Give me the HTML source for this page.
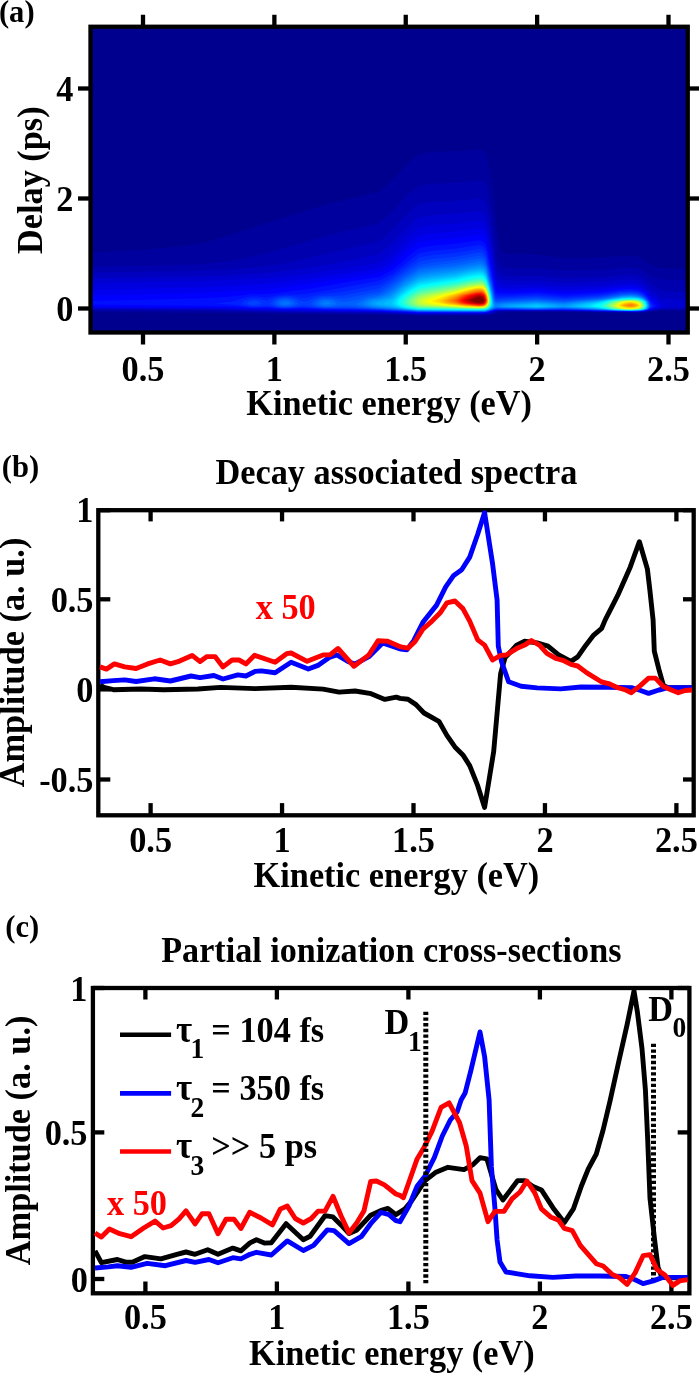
<!DOCTYPE html>
<html><head><meta charset="utf-8"><style>
html,body{margin:0;padding:0;background:#fff;overflow:hidden;width:700px;height:1373px;}
svg{display:block;will-change:transform}
text{font-family:'Liberation Serif',serif;font-weight:bold}
</style></head><body>
<svg width="700" height="1373" viewBox="0 0 700 1373">
<rect width="700" height="1373" fill="#fff"/>
<g clip-path="url(#ca)"><defs><clipPath id="ca"><rect x="90.5" y="26.75" width="597.25" height="305.75"/></clipPath></defs><rect x="90.5" y="26.75" width="597.25" height="305.75" fill="#00008f"/>
<path fill="#00009f" fill-rule="evenodd" d="M487.5 315.6 419.5 315.8 377.5 314.7 90.5 312.1 90.5 252.7 151.5 249.3 186.6 245.5 202.5 243.3 231.3 234.5 285.5 216.7 328.5 203.9 378.5 191.7 381.5 189.8 392.5 180.0 406.5 164.5 416.5 156.2 419.5 154.3 432.5 152.1 457.5 151.1 478.5 149.4 481.5 150.1 484.5 151.7 486.1 154.5 487.5 159.4 492.5 185.4 497.5 234.8 500.5 247.2 502.0 250.5 503.5 252.4 505.5 253.1 511.5 253.8 537.5 254.5 564.5 258.2 590.5 257.9 622.5 255.9 632.5 256.0 639.5 257.1 642.5 258.9 650.5 265.3 659.5 267.9 687.5 268.9 687.5 310.5 661.5 310.7 651.5 311.4 643.5 313.0 635.5 313.3 562.5 312.1 503.5 312.3 498.5 313.0 492.5 314.9 487.5 315.6Z"/>
<path fill="#0000af" fill-rule="evenodd" d="M488.5 314.6 479.5 315.1 419.5 314.9 378.5 313.6 284.5 312.7 200.5 311.1 90.5 310.4 90.5 266.6 151.5 265.7 200.5 264.2 227.1 261.5 248.7 257.5 272.5 251.5 329.5 235.1 378.5 223.3 381.5 221.3 392.5 211.5 406.5 196.1 416.5 187.7 419.5 185.8 432.5 183.7 457.5 182.5 478.5 180.6 481.5 181.3 484.5 182.9 486.5 186.9 492.3 215.5 496.5 255.5 497.4 260.5 499.5 264.9 502.5 267.2 511.5 268.5 537.5 268.2 564.5 270.5 601.5 269.8 622.5 268.0 631.5 267.8 639.5 269.0 642.7 270.5 650.5 276.6 660.5 279.4 687.5 280.5 687.5 309.8 661.5 310.0 651.5 310.7 644.5 312.3 631.5 312.7 563.5 311.3 501.5 311.4 497.5 311.9 492.5 313.9 488.5 314.6Z"/>
<path fill="#0000bf" fill-rule="evenodd" d="M490.5 313.6 481.5 314.4 419.5 314.3 379.5 313.0 284.5 311.9 203.5 310.1 90.5 309.5 90.5 272.6 172.5 271.3 227.5 269.4 264.5 266.5 289.9 262.5 378.5 241.6 381.5 239.7 392.5 229.9 406.5 214.5 416.5 206.1 419.5 204.2 432.5 202.0 457.5 200.7 478.5 198.5 481.5 199.2 484.5 200.9 486.5 204.9 491.8 230.5 496.4 267.5 498.5 271.9 502.1 274.5 511.5 276.3 537.5 275.9 564.5 278.0 601.5 277.2 623.5 274.8 632.5 274.6 637.5 275.3 641.5 276.9 646.8 280.5 650.5 284.0 656.5 287.2 661.5 290.7 687.5 292.5 687.5 308.6 662.5 309.1 650.5 310.4 644.5 312.0 638.5 312.3 563.5 310.9 502.5 310.9 496.5 311.3 490.5 313.6Z"/>
<path fill="#0000cf" fill-rule="evenodd" d="M487.5 313.7 478.5 314.0 419.5 313.9 379.5 312.4 283.5 311.2 220.1 309.5 90.5 308.8 90.5 278.0 199.5 276.5 239.5 274.8 273.5 272.2 303.3 268.5 322.5 265.5 349.5 260.5 379.5 253.8 392.5 242.8 406.5 227.4 416.5 219.1 419.5 217.2 432.5 215.0 456.5 213.6 478.5 211.1 481.5 211.8 484.5 213.5 486.5 217.5 491.5 241.3 495.5 271.2 497.5 277.2 500.5 279.3 510.5 281.1 537.5 280.6 564.5 282.9 601.5 281.7 626.5 279.2 635.5 279.5 639.5 280.3 642.5 282.0 646.5 285.4 650.5 289.8 656.5 293.5 661.5 298.1 687.5 300.0 687.5 307.3 662.5 307.9 657.5 309.5 651.5 310.0 641.5 312.0 621.5 312.1 563.5 310.5 499.7 310.5 496.5 310.8 492.5 312.6 487.5 313.7Z"/>
<path fill="#0000df" fill-rule="evenodd" d="M484.5 313.6 418.5 313.4 378.5 311.8 284.5 310.6 217.5 308.8 90.5 308.1 90.5 283.3 200.5 281.0 266.5 278.3 303.3 274.5 365.0 265.5 377.5 263.3 381.5 261.5 392.5 252.6 406.5 237.4 416.5 229.1 419.5 227.2 431.5 225.1 456.5 223.4 478.5 220.7 481.5 221.3 484.5 223.1 486.5 227.2 491.4 250.5 495.5 277.5 497.5 282.0 499.5 283.6 502.5 284.6 509.5 285.4 537.5 284.5 564.5 287.0 601.5 285.5 625.5 282.7 635.5 282.9 639.5 283.9 643.5 286.2 650.5 293.7 656.5 297.8 661.5 303.0 668.8 304.5 664.2 305.5 662.9 306.5 654.5 309.4 645.5 311.3 638.5 311.9 622.5 312.0 564.5 310.3 498.5 310.3 495.9 310.5 489.5 312.9 484.5 313.6Z"/>
<path fill="#0000ef" fill-rule="evenodd" d="M488.5 312.7 479.5 313.3 419.5 313.2 379.5 311.4 303.5 309.9 283.5 310.1 267.5 309.2 251.5 309.2 228.5 308.2 90.5 307.3 90.5 289.9 199.5 287.5 255.5 284.4 273.5 282.9 319.7 277.5 377.5 269.0 381.7 267.5 391.5 261.1 406.5 245.6 416.5 237.3 419.5 235.4 431.5 233.2 456.5 231.4 478.5 228.4 483.5 230.0 485.5 232.4 486.5 235.0 490.9 255.5 495.5 282.3 496.5 285.4 498.5 287.4 502.5 288.4 510.5 288.8 537.5 287.7 564.5 290.1 601.5 288.4 624.5 285.4 634.5 285.4 639.5 286.5 643.5 288.9 647.5 292.6 651.5 297.5 657.5 301.8 659.3 304.5 659.4 306.5 656.5 308.1 645.5 311.1 638.5 311.7 623.5 311.8 564.5 310.2 498.5 310.1 494.8 310.5 488.5 312.7Z"/>
<path fill="#0000ff" fill-rule="evenodd" d="M487.5 312.6 478.5 313.1 419.5 312.9 379.5 311.0 324.5 310.1 303.5 309.2 283.5 309.6 268.5 308.6 251.5 308.6 229.5 307.3 90.5 306.4 90.5 295.6 200.5 293.1 266.0 289.5 276.1 288.5 375.5 273.9 380.5 272.6 392.5 265.9 406.5 252.2 419.5 242.2 431.5 240.0 455.5 238.2 478.5 234.8 483.5 236.4 485.5 238.9 486.5 241.5 490.1 257.5 495.5 287.0 496.5 289.4 498.5 290.8 510.5 291.5 537.5 290.2 564.5 292.6 601.5 290.7 622.5 287.7 633.5 287.4 639.5 288.6 644.5 291.7 647.5 294.6 651.5 299.8 656.7 303.5 657.7 306.5 646.5 310.6 636.5 311.6 564.5 310.0 497.5 310.0 494.5 310.3 487.5 312.6Z"/>
<path fill="#0010ff" fill-rule="evenodd" d="M485.5 312.6 419.5 312.6 356.5 309.9 324.5 309.6 303.5 308.6 283.5 309.1 267.5 307.7 252.5 308.0 235.5 306.6 202.5 305.7 90.5 304.6 90.5 301.0 197.5 298.5 230.5 296.8 250.5 294.2 268.5 293.9 312.0 288.5 349.6 281.5 379.5 277.1 393.5 269.4 408.5 256.3 417.5 249.2 420.5 247.8 432.5 245.7 456.5 243.8 478.5 240.3 480.5 240.6 483.5 241.9 485.5 244.4 486.5 246.9 491.7 270.5 494.5 286.7 495.5 290.7 497.5 293.2 510.5 293.6 537.5 292.3 564.5 294.6 601.5 292.4 623.5 289.3 632.5 289.1 638.5 289.9 643.5 292.4 647.5 296.2 651.5 301.7 655.2 304.5 655.8 306.5 647.5 310.2 638.5 311.4 622.5 311.4 601.5 310.5 564.5 309.8 497.5 309.8 494.5 310.1 485.5 312.6Z"/>
<path fill="#0020ff" fill-rule="evenodd" d="M481.5 312.5 418.5 312.3 379.5 310.1 345.5 309.1 324.5 309.2 304.5 307.8 283.5 308.7 267.5 306.9 250.5 307.3 235.5 304.9 214.7 303.5 231.5 301.7 245.5 297.6 250.5 296.7 256.5 296.6 266.5 297.5 283.5 294.2 299.5 294.5 305.5 294.0 332.9 289.5 377.5 281.0 381.7 279.5 392.5 273.9 416.5 254.9 419.5 253.1 431.5 250.9 455.5 248.7 478.5 245.0 480.5 245.3 483.5 246.6 485.5 249.0 486.5 251.6 491.2 272.5 494.5 290.2 495.5 293.6 497.5 295.6 510.5 295.4 536.5 294.0 564.5 296.4 601.5 293.9 620.5 291.0 631.5 290.4 638.5 291.2 643.5 293.7 647.6 297.5 653.7 306.5 647.5 310.0 637.5 311.3 564.5 309.7 497.5 309.6 494.5 309.8 486.5 312.3 481.5 312.5Z"/>
<path fill="#0030ff" fill-rule="evenodd" d="M488.5 311.5 479.5 312.3 419.5 312.1 356.5 308.8 322.5 308.6 304.5 306.9 283.5 308.1 277.0 307.5 266.5 305.4 257.6 306.5 250.6 306.5 242.6 304.5 241.5 303.5 244.7 300.5 250.5 298.7 256.5 298.6 266.5 300.4 277.5 296.8 285.5 295.7 291.5 296.0 301.5 297.8 305.5 297.8 320.5 294.3 340.5 292.2 376.5 285.3 379.5 284.4 392.5 277.2 405.5 267.3 419.5 257.6 431.5 255.3 455.5 253.0 478.5 249.0 480.5 249.3 483.5 250.6 486.1 254.5 490.0 270.5 494.5 293.1 495.5 296.0 497.5 297.6 536.5 295.6 564.5 297.9 601.5 295.2 620.5 292.1 631.5 291.5 638.5 292.3 643.5 294.8 649.1 300.5 651.6 306.5 647.5 309.8 642.5 310.8 636.5 311.2 564.5 309.5 533.5 309.8 497.5 309.2 494.5 309.6 488.5 311.5Z"/>
<path fill="#0040ff" fill-rule="evenodd" d="M487.5 311.6 478.5 312.1 418.5 311.8 350.5 308.0 323.5 308.1 316.8 307.5 304.5 305.2 291.5 307.3 283.5 307.6 275.7 306.5 271.2 304.5 270.4 303.5 271.9 301.5 274.8 299.5 278.5 298.0 282.5 297.2 286.5 297.0 291.5 297.6 301.5 301.0 304.5 301.5 307.5 300.9 316.5 297.3 321.5 296.1 343.5 295.4 377.5 288.9 380.5 287.6 393.5 279.4 405.5 270.4 419.5 261.5 431.5 259.3 455.5 256.8 478.5 252.6 480.5 252.8 483.5 254.1 485.4 256.5 486.2 258.5 491.8 281.5 494.5 295.6 495.5 298.1 496.5 299.0 536.5 297.0 564.5 299.2 601.5 296.3 620.5 293.1 631.5 292.4 638.5 293.2 643.5 295.7 647.5 299.2 649.3 301.5 650.6 306.5 649.1 308.5 647.5 309.6 642.5 310.7 636.5 311.1 622.5 311.1 563.5 309.1 531.5 309.6 497.5 308.7 495.5 308.9 487.5 311.6ZM259.5 304.6 252.5 305.3 248.2 304.5 247.0 303.5 249.5 301.2 255.0 300.5 258.5 301.4 260.3 302.5 261.1 303.5 259.5 304.6Z"/>
<path fill="#0050ff" fill-rule="evenodd" d="M486.5 311.5 478.5 311.9 419.5 311.6 347.5 307.0 324.5 307.6 315.8 306.5 311.3 304.5 310.8 303.5 314.5 300.2 321.5 297.6 329.5 297.1 340.5 298.5 345.8 298.5 379.4 291.5 391.5 283.7 407.5 272.0 419.5 264.9 431.5 262.7 455.5 260.1 478.5 255.8 482.5 256.7 484.5 258.2 485.5 259.9 488.7 270.5 494.5 297.8 495.5 299.8 496.5 300.5 536.5 298.2 563.5 300.4 601.5 297.3 620.5 294.0 631.5 293.2 638.5 294.1 644.5 297.2 648.8 301.5 650.0 306.5 648.7 308.5 647.3 309.5 642.5 310.5 636.5 311.0 621.5 311.0 563.5 308.7 536.4 309.5 497.5 308.3 495.5 308.4 486.5 311.5ZM291.5 306.6 285.5 307.0 279.3 306.5 274.7 304.5 274.1 303.5 275.2 301.5 276.4 300.5 279.5 299.1 284.5 298.3 289.5 298.6 295.1 300.5 298.1 303.5 297.5 304.5 291.5 306.6Z"/>
<path fill="#0060ff" fill-rule="evenodd" d="M484.5 311.6 417.5 311.3 371.5 308.2 344.5 305.2 332.5 306.7 324.5 307.0 318.5 306.0 315.4 304.5 314.9 303.5 317.8 300.5 323.5 298.7 330.5 298.7 341.5 301.7 345.5 302.1 355.5 299.9 368.5 296.0 378.5 294.1 382.3 292.5 390.5 287.3 405.5 276.0 419.5 267.7 431.5 265.7 455.5 263.1 478.5 258.7 482.5 259.5 484.5 261.1 485.5 262.7 488.1 270.5 494.5 299.5 495.5 301.3 496.5 301.8 536.5 299.3 563.5 301.4 601.5 298.0 620.5 294.7 630.5 293.9 638.5 294.9 643.5 297.1 648.4 301.5 649.5 305.5 649.5 306.5 648.3 308.5 646.8 309.5 636.5 310.9 621.5 310.8 563.5 308.3 536.5 309.1 496.5 307.9 487.5 311.1 484.5 311.6ZM290.5 305.7 286.5 306.3 282.5 306.1 278.5 304.9 277.1 303.5 278.2 301.5 279.8 300.5 283.5 299.6 287.5 299.6 291.1 300.5 293.7 302.5 294.2 303.5 293.5 304.5 290.5 305.7Z"/>
<path fill="#0070ff" fill-rule="evenodd" d="M640.5 310.5 622.5 310.8 563.5 308.0 536.5 308.8 496.5 307.5 487.5 310.9 484.5 311.4 419.5 311.2 370.2 307.5 363.2 306.5 356.7 304.5 356.4 303.5 367.5 298.2 379.5 295.7 384.6 293.5 391.5 289.3 404.5 279.0 419.5 270.1 431.5 268.2 455.5 265.7 479.5 261.3 483.5 262.7 485.5 265.2 486.5 267.5 491.8 288.5 494.0 299.5 494.6 301.5 496.5 303.0 504.5 302.0 536.5 300.2 563.5 302.4 601.5 298.7 622.5 295.2 631.5 294.7 636.5 295.1 640.5 296.2 643.5 297.7 648.0 301.5 649.1 306.5 648.0 308.5 645.5 309.7 640.5 310.5ZM332.5 305.5 327.5 306.2 323.5 305.9 319.0 304.5 318.4 303.5 320.1 301.5 322.3 300.5 325.5 300.0 329.5 300.2 333.8 301.5 336.3 303.5 335.6 304.5 332.5 305.5ZM288.5 304.8 283.5 305.0 281.3 304.5 280.2 303.5 280.7 302.5 282.1 301.5 286.5 301.0 288.6 301.5 290.1 302.5 290.6 303.5 288.5 304.8Z"/>
<path fill="#0080ff" fill-rule="evenodd" d="M639.5 310.5 622.5 310.7 563.5 307.6 535.5 308.4 504.5 307.7 496.5 306.9 494.5 307.4 490.7 309.5 484.5 311.2 419.5 311.0 371.5 307.0 365.5 305.5 363.3 304.5 363.0 303.5 365.3 301.5 369.0 299.5 380.5 296.9 388.7 293.5 392.5 291.1 404.5 281.1 419.5 272.5 431.5 270.4 455.5 267.8 479.5 263.6 483.5 264.9 485.5 267.3 486.5 269.5 491.4 288.5 494.1 301.5 495.5 303.9 496.5 304.3 504.5 302.9 536.5 301.1 563.5 303.2 576.4 301.5 601.5 299.3 622.5 295.8 631.5 295.3 636.5 295.7 640.5 296.8 644.5 298.9 647.6 301.5 648.8 305.5 648.7 306.5 647.6 308.5 644.5 309.8 639.5 310.5ZM328.5 304.6 324.1 304.5 322.7 303.5 323.7 302.5 326.5 302.0 329.4 302.5 330.6 303.5 328.5 304.6Z"/>
<path fill="#008fff" fill-rule="evenodd" d="M486.5 310.7 478.5 311.1 416.5 310.6 373.0 306.5 367.6 304.5 367.2 303.5 369.1 301.5 371.5 300.3 383.4 297.5 390.5 294.6 406.5 281.9 419.5 274.7 431.5 272.6 455.5 269.8 479.5 265.6 483.5 266.8 485.5 269.1 486.5 271.3 491.0 288.5 493.5 301.4 495.3 306.5 490.0 309.5 486.5 310.7ZM637.5 310.5 617.5 310.3 563.5 307.2 535.5 308.1 509.8 307.5 498.2 306.5 501.2 304.5 503.5 304.0 535.5 302.0 563.5 304.3 580.5 301.8 602.5 299.7 622.5 296.3 630.5 295.8 636.5 296.3 640.5 297.3 643.5 298.7 647.2 301.5 648.4 305.5 647.2 308.5 643.5 309.9 637.5 310.5Z"/>
<path fill="#009fff" fill-rule="evenodd" d="M485.5 310.7 417.5 310.5 405.2 309.5 376.5 305.9 371.5 304.5 370.9 303.5 372.5 301.9 374.5 301.0 385.5 298.4 390.6 296.5 400.1 288.5 406.5 283.9 419.5 276.7 431.5 274.6 455.5 271.6 479.5 267.3 483.5 268.5 485.3 270.5 486.5 273.1 490.9 289.5 493.9 304.5 494.1 306.5 492.9 307.5 489.3 309.5 485.5 310.7ZM635.5 310.5 616.5 310.2 563.5 306.7 536.5 307.9 501.7 306.5 504.5 305.4 509.8 304.5 536.5 302.7 553.5 304.1 563.5 306.0 574.0 303.5 602.5 300.2 620.5 297.0 629.5 296.3 639.5 297.4 643.5 299.1 646.8 301.5 648.1 305.5 646.8 308.5 643.5 309.8 635.5 310.5Z"/>
<path fill="#00afff" fill-rule="evenodd" d="M484.5 310.6 417.5 310.2 400.3 308.5 376.7 304.5 375.5 303.5 377.1 302.5 391.5 298.0 404.5 287.1 413.4 281.5 419.5 278.5 431.5 276.4 454.5 273.5 468.5 270.5 479.5 268.9 483.5 270.0 485.5 272.4 486.5 274.7 491.0 291.5 493.3 304.5 493.3 306.5 492.2 307.5 488.7 309.5 484.5 310.6ZM631.5 310.5 608.5 309.6 568.3 306.5 574.5 304.4 625.5 296.9 631.5 296.8 637.5 297.3 642.5 298.9 646.4 301.5 647.7 305.5 646.4 308.5 641.5 310.0 631.5 310.5ZM539.5 307.5 508.8 306.5 520.2 304.5 536.5 303.4 548.4 304.5 557.5 306.5 539.5 307.5Z"/>
<path fill="#00bfff" fill-rule="evenodd" d="M481.5 310.5 417.5 310.0 401.5 308.3 385.6 304.5 383.7 303.5 392.5 299.3 397.5 294.4 404.5 288.8 418.5 280.5 430.5 278.2 455.5 274.9 469.5 271.8 479.5 270.3 483.5 271.4 485.5 273.9 486.5 276.2 491.1 293.5 492.8 304.5 492.6 306.5 488.5 309.3 485.5 310.3 481.5 310.5ZM643.5 309.6 635.5 310.3 619.5 310.2 574.3 306.5 580.0 304.5 597.6 301.5 620.5 297.8 631.5 297.1 639.5 298.1 643.5 299.8 646.0 301.5 647.2 304.5 647.3 306.5 646.0 308.5 643.5 309.6ZM549.5 306.5 536.5 307.2 518.2 306.5 536.5 304.3 550.2 306.5 549.5 306.5Z"/>
<path fill="#00cfff" fill-rule="evenodd" d="M487.5 309.5 484.5 310.2 478.5 310.4 418.5 309.9 406.5 308.7 399.8 307.5 396.0 306.5 392.4 304.5 391.6 303.5 393.5 300.5 400.5 293.5 407.5 288.3 418.5 282.1 430.5 279.8 454.8 276.5 470.5 273.0 479.5 271.7 483.5 272.8 485.5 275.3 488.4 283.5 491.3 295.5 492.3 303.5 492.0 306.5 487.5 309.5ZM642.5 309.6 632.5 310.3 618.5 310.0 580.7 306.5 586.3 304.5 608.5 300.1 622.5 297.9 631.5 297.5 638.5 298.2 642.5 299.6 645.6 301.5 646.9 304.5 646.9 306.5 645.6 308.5 642.5 309.6ZM541.5 306.6 528.8 306.5 536.5 305.7 542.5 306.5 541.5 306.6Z"/>
<path fill="#00dfff" fill-rule="evenodd" d="M486.5 309.6 478.5 310.2 418.5 309.6 401.9 307.5 396.4 305.5 394.4 303.5 395.4 300.5 399.9 295.5 409.5 288.5 418.5 283.6 429.5 281.4 455.5 277.8 468.5 274.8 479.5 273.0 483.5 274.1 485.5 276.6 488.3 284.5 491.0 295.5 491.8 300.5 491.8 305.5 490.4 307.5 486.5 309.6ZM642.5 309.5 631.5 310.3 617.5 309.9 587.5 306.5 591.1 304.5 606.5 300.8 623.5 298.2 632.5 297.9 639.5 298.8 645.2 301.5 646.5 304.5 646.6 306.5 645.3 308.5 642.5 309.5Z"/>
<path fill="#00efff" fill-rule="evenodd" d="M485.5 309.7 477.5 310.0 417.5 309.3 406.5 308.0 400.4 306.5 397.1 304.5 396.5 302.5 397.1 300.5 401.7 295.5 411.5 288.7 419.5 284.7 431.5 282.4 454.5 279.2 469.5 275.8 479.5 274.2 483.5 275.4 485.5 277.8 488.3 285.5 490.9 296.5 491.6 302.5 490.9 306.5 488.4 308.5 485.5 309.7ZM641.5 309.6 630.5 310.2 616.5 309.7 606.5 308.8 591.9 306.5 592.4 305.5 594.2 304.5 606.5 301.1 621.5 298.7 632.5 298.2 639.5 299.1 644.8 301.5 646.2 304.5 646.2 306.5 644.9 308.5 641.5 309.6Z"/>
<path fill="#00ffff" fill-rule="evenodd" d="M484.5 309.6 418.5 309.1 407.5 307.8 402.4 306.5 399.1 304.5 398.3 302.5 398.8 300.5 403.5 295.5 412.5 289.4 419.5 286.0 430.5 283.9 454.5 280.4 469.5 277.0 479.5 275.4 483.5 276.5 485.5 279.0 488.9 288.5 491.1 299.5 491.3 303.5 490.4 306.5 487.5 308.8 484.5 309.6ZM640.5 309.6 630.5 310.1 615.5 309.5 606.5 308.6 595.3 306.5 595.5 305.5 597.5 304.5 602.5 303.2 607.5 301.2 623.5 298.8 634.5 298.6 641.5 300.0 644.4 301.5 645.0 302.5 646.0 305.5 645.3 307.5 644.5 308.5 640.5 309.6Z"/>
<path fill="#10ffef" fill-rule="evenodd" d="M483.5 309.5 418.5 308.9 404.3 306.5 401.0 304.5 400.0 302.5 400.5 300.5 405.3 295.5 413.5 290.1 419.5 287.2 430.5 285.1 455.5 281.3 470.5 277.9 479.5 276.5 483.5 277.6 486.2 281.5 488.7 288.5 490.9 299.5 491.0 303.5 490.0 306.5 486.5 309.0 483.5 309.5ZM640.5 309.5 630.5 310.0 615.5 309.4 607.0 308.5 598.9 306.5 598.8 305.5 608.5 301.2 623.5 299.0 635.5 298.9 641.5 300.3 644.0 301.5 644.7 302.5 645.5 304.5 645.5 306.5 644.2 308.5 640.5 309.5Z"/>
<path fill="#20ffdf" fill-rule="evenodd" d="M486.5 308.8 478.5 309.5 418.5 308.6 406.3 306.5 402.8 304.5 401.7 302.5 402.1 300.5 407.0 295.5 414.5 290.8 419.5 288.4 454.5 282.5 479.5 277.5 483.5 278.6 485.5 281.0 488.1 287.5 490.1 295.5 490.8 300.5 490.2 305.5 488.7 307.5 486.5 308.8ZM639.5 309.6 624.5 309.8 610.5 308.8 602.0 306.5 601.8 305.5 606.3 302.5 609.5 301.3 624.5 299.2 636.5 299.3 643.5 301.4 645.2 304.5 645.2 306.5 643.8 308.5 639.5 309.6Z"/>
<path fill="#30ffcf" fill-rule="evenodd" d="M486.5 308.5 478.5 309.3 419.5 308.4 408.3 306.5 404.6 304.5 403.4 302.5 403.8 300.5 408.7 295.5 419.5 289.5 430.5 287.2 454.5 283.4 479.5 278.5 482.5 279.0 485.2 281.5 487.5 286.4 489.0 291.5 490.4 299.5 490.4 303.5 489.3 306.5 486.5 308.5ZM638.5 309.6 623.5 309.7 609.6 308.5 603.7 306.5 603.4 305.5 605.7 303.5 610.0 301.5 625.5 299.4 636.5 299.5 643.2 301.5 644.9 304.5 644.8 306.5 643.4 308.5 638.5 309.6Z"/>
<path fill="#40ffbf" fill-rule="evenodd" d="M485.5 308.7 477.5 309.1 419.5 308.1 409.5 306.2 406.3 304.5 405.1 302.5 405.4 300.5 409.5 296.2 419.5 290.6 428.8 288.5 454.5 284.3 466.5 281.5 479.5 279.4 483.5 280.5 485.5 282.7 488.0 288.5 489.7 295.5 490.3 300.5 489.9 304.5 488.5 307.0 485.5 308.7ZM637.5 309.6 623.5 309.6 610.9 308.5 604.9 306.5 604.6 305.5 606.9 303.5 611.4 301.5 622.5 299.8 635.5 299.7 642.8 301.5 644.5 304.5 644.5 306.5 643.0 308.5 637.5 309.6Z"/>
<path fill="#50ffaf" fill-rule="evenodd" d="M484.5 308.7 477.5 309.0 419.5 307.8 412.4 306.5 409.7 305.5 407.0 303.5 406.7 302.5 406.9 300.5 410.8 296.5 419.5 291.7 430.5 289.2 454.5 285.2 468.5 281.9 479.5 280.3 483.5 281.2 485.5 283.4 487.7 288.5 489.5 295.5 490.1 300.5 489.3 305.5 487.5 307.6 484.5 308.7ZM636.5 309.6 623.5 309.5 612.3 308.5 606.1 306.5 605.6 305.5 607.5 303.8 612.8 301.5 622.5 300.0 635.5 299.8 642.4 301.5 644.4 305.5 643.5 307.5 642.5 308.5 636.5 309.6Z"/>
<path fill="#60ff9f" fill-rule="evenodd" d="M483.5 308.6 419.5 307.5 414.3 306.5 409.8 304.5 408.2 302.5 408.4 300.5 413.8 295.5 420.5 292.4 431.5 290.0 455.5 285.8 470.5 282.3 480.5 281.1 483.5 282.0 486.5 286.0 488.6 292.5 489.9 299.5 489.7 303.5 488.5 306.3 486.5 307.9 483.5 308.6ZM635.5 309.5 624.5 309.5 613.5 308.5 607.3 306.5 606.7 305.5 608.5 303.9 614.0 301.5 622.5 300.2 634.5 300.0 641.9 301.5 644.1 305.5 643.1 307.5 641.5 308.7 635.5 309.5Z"/>
<path fill="#70ff8f" fill-rule="evenodd" d="M481.5 308.5 419.5 307.1 416.2 306.5 411.6 304.5 409.8 302.5 409.9 300.5 415.6 295.5 421.5 293.1 455.5 286.5 469.5 283.2 480.5 281.8 483.5 282.7 486.5 286.7 488.9 294.5 489.8 300.5 489.5 303.5 488.1 306.5 485.5 308.1 481.5 308.5ZM632.5 309.5 614.5 308.5 608.5 306.5 607.9 305.5 608.7 304.5 615.0 301.5 629.5 300.0 636.5 300.3 640.5 301.2 642.4 302.5 643.5 304.5 643.5 306.5 641.7 308.5 632.5 309.5Z"/>
<path fill="#80ff80" fill-rule="evenodd" d="M486.5 307.5 483.5 308.3 477.5 308.4 420.5 306.8 417.5 306.3 413.4 304.5 411.4 302.5 411.5 300.5 416.5 296.1 421.5 294.0 455.5 287.3 468.5 284.1 480.5 282.4 483.5 283.3 485.5 285.5 487.3 289.5 489.0 295.5 489.6 300.5 489.3 303.5 488.5 305.6 486.5 307.5ZM640.5 308.7 630.5 309.5 618.5 308.8 615.5 308.5 609.8 306.5 609.0 305.5 609.9 304.5 616.5 301.4 628.5 300.2 636.5 300.5 640.9 301.5 643.2 304.5 643.1 306.5 640.5 308.7Z"/>
<path fill="#8fff70" fill-rule="evenodd" d="M485.5 307.7 474.5 308.2 421.5 306.4 417.0 305.5 413.6 303.5 413.0 302.5 413.0 300.5 417.6 296.5 421.5 294.9 455.5 287.9 468.5 284.7 480.5 283.1 483.5 284.0 485.5 286.1 487.1 289.5 488.8 295.5 489.4 300.5 489.1 303.5 487.5 306.5 485.5 307.7ZM640.5 308.5 630.5 309.4 618.5 308.7 616.6 308.5 611.1 306.5 610.2 305.5 611.1 304.5 617.2 301.5 628.5 300.4 636.5 300.7 640.3 301.5 642.8 304.5 642.7 306.5 640.5 308.5Z"/>
<path fill="#9fff60" fill-rule="evenodd" d="M485.5 307.5 480.5 308.1 472.5 308.0 423.5 306.1 419.2 305.5 416.5 304.3 414.6 302.5 414.6 300.5 418.5 297.2 422.5 295.5 454.5 288.8 468.5 285.4 480.5 283.7 483.5 284.6 485.5 286.7 488.6 295.5 489.3 300.5 488.9 303.5 487.5 306.3 485.5 307.5ZM639.5 308.6 630.5 309.3 617.6 308.5 612.4 306.5 611.5 305.5 612.4 304.5 618.3 301.5 628.5 300.6 636.5 300.8 639.8 301.5 642.5 304.5 642.3 306.5 639.5 308.6Z"/>
<path fill="#afff50" fill-rule="evenodd" d="M484.5 307.6 466.5 307.7 424.5 305.6 419.5 304.7 417.0 303.5 416.2 302.5 416.1 300.5 419.5 297.9 425.8 295.5 454.5 289.5 468.5 286.0 480.5 284.3 483.5 285.1 485.5 287.3 487.3 291.5 488.6 296.5 489.1 300.5 488.7 303.5 487.5 306.0 484.5 307.6ZM639.5 308.5 630.5 309.2 618.7 308.5 613.6 306.5 612.6 305.5 615.1 303.5 619.5 301.5 629.5 300.7 636.5 301.0 639.1 301.5 642.0 304.5 642.3 305.5 641.9 306.5 639.5 308.5Z"/>
<path fill="#bfff40" fill-rule="evenodd" d="M483.5 307.6 465.5 307.5 428.0 305.5 418.8 303.5 417.9 302.5 417.8 300.5 420.5 298.7 429.2 295.5 454.5 290.2 467.5 286.7 477.5 284.9 480.5 284.8 483.5 285.7 485.5 287.9 487.7 293.5 488.9 299.5 488.8 302.5 487.7 305.5 485.5 307.2 483.5 307.6ZM638.5 308.6 630.5 309.1 619.8 308.5 614.6 306.5 613.7 305.5 616.0 303.5 620.7 301.5 629.5 300.8 636.5 301.1 638.5 301.5 639.9 302.5 641.9 305.5 640.5 307.4 638.5 308.6Z"/>
<path fill="#cfff30" fill-rule="evenodd" d="M482.5 307.6 465.5 307.3 432.5 305.4 421.7 303.5 420.0 302.5 419.7 300.5 424.5 298.2 432.5 295.6 454.5 290.9 467.5 287.3 480.5 285.4 483.5 286.2 485.5 288.4 487.9 294.5 488.7 299.5 488.6 302.5 487.5 305.5 485.5 307.0 482.5 307.6ZM637.5 308.6 630.5 309.0 621.0 308.5 615.5 306.5 614.6 305.5 617.0 303.5 622.0 301.5 629.5 301.0 636.5 301.3 639.4 302.5 641.5 305.5 639.9 307.5 637.5 308.6Z"/>
<path fill="#dfff20" fill-rule="evenodd" d="M480.5 307.5 448.5 306.1 432.5 304.8 424.5 303.2 423.1 302.5 422.4 300.5 432.6 296.5 454.8 291.5 466.5 288.0 477.5 286.0 480.5 285.9 483.5 286.8 485.5 289.0 488.0 295.5 488.6 300.5 488.2 303.5 486.5 306.2 484.5 307.1 480.5 307.5ZM637.5 308.5 630.5 308.9 622.2 308.5 616.5 306.5 615.5 305.5 618.0 303.5 623.4 301.5 630.5 301.1 636.5 301.5 639.5 303.1 641.1 305.5 640.5 306.6 637.5 308.5Z"/>
<path fill="#efff10" fill-rule="evenodd" d="M485.5 306.6 482.5 307.3 477.5 307.4 444.0 305.5 429.0 303.5 426.3 302.5 425.4 300.5 434.5 297.1 455.5 292.0 465.5 288.8 476.5 286.6 480.5 286.4 482.5 286.8 484.5 288.1 486.5 291.7 487.8 295.5 488.3 302.5 487.0 305.5 485.5 306.6ZM636.5 308.5 623.6 308.5 617.5 306.5 616.4 305.5 617.2 304.5 619.5 303.3 624.5 301.6 635.3 301.5 638.5 302.8 640.7 305.5 639.5 307.0 636.5 308.5Z"/>
<path fill="#ffff00" fill-rule="evenodd" d="M484.5 306.8 475.5 307.1 447.5 305.4 432.5 303.4 429.7 302.5 428.4 300.5 442.8 295.5 455.5 292.6 466.5 289.1 476.5 287.1 480.5 286.9 482.5 287.3 484.5 288.6 487.6 295.5 488.2 302.5 486.8 305.5 484.5 306.8ZM634.5 308.5 625.5 308.5 619.5 306.9 617.3 305.5 619.5 303.8 624.5 302.0 629.5 301.4 634.5 301.7 637.5 302.6 639.8 304.5 640.2 305.5 638.0 307.5 634.5 308.5Z"/>
<path fill="#ffef00" fill-rule="evenodd" d="M484.5 306.6 473.5 306.9 448.5 305.1 433.5 302.6 431.5 300.5 445.1 295.5 455.5 293.1 465.5 289.9 474.5 287.9 480.5 287.3 482.5 287.7 484.5 289.1 487.5 295.6 488.2 300.5 488.0 302.5 486.5 305.5 484.5 306.6ZM632.5 308.5 624.5 308.0 619.6 306.5 618.3 305.5 619.2 304.5 623.5 302.6 629.5 301.6 636.3 302.5 639.3 304.5 639.7 305.5 638.5 306.8 636.5 307.8 632.5 308.5Z"/>
<path fill="#ffdf00" fill-rule="evenodd" d="M483.5 306.7 467.5 306.4 448.5 304.6 437.4 302.5 435.0 300.5 447.5 295.5 455.5 293.7 470.5 289.2 480.5 287.8 482.5 288.2 484.5 289.7 486.5 293.3 487.5 296.5 488.1 300.5 487.5 303.5 486.2 305.5 483.5 306.7ZM635.5 307.7 628.5 308.3 622.5 307.1 619.3 305.5 620.2 304.5 624.5 302.8 629.5 302.0 632.5 302.1 636.5 303.1 638.7 304.5 639.2 305.5 638.4 306.5 635.5 307.7Z"/>
<path fill="#ffcf00" fill-rule="evenodd" d="M483.5 306.5 478.5 306.8 466.5 306.2 448.5 304.2 440.7 302.5 438.6 300.5 450.0 295.5 469.5 290.0 477.5 288.3 480.5 288.2 482.5 288.6 484.5 290.2 486.5 293.8 487.5 297.3 487.9 300.5 487.3 303.5 486.0 305.5 483.5 306.5ZM634.5 307.5 628.5 307.9 622.5 306.7 620.3 305.5 621.3 304.5 623.5 303.6 629.5 302.3 634.5 302.9 638.1 304.5 638.6 305.5 637.7 306.5 634.5 307.5Z"/>
<path fill="#ffbf00" fill-rule="evenodd" d="M481.5 306.6 463.5 305.8 447.5 303.6 443.1 302.5 441.2 300.5 449.3 296.5 463.5 292.1 475.5 289.1 480.5 288.7 483.5 289.7 485.5 292.2 486.9 295.5 487.8 300.5 487.2 303.5 485.7 305.5 481.5 306.6ZM631.5 307.6 624.5 306.8 621.4 305.5 623.5 304.1 630.5 302.7 636.5 304.0 638.0 305.5 636.5 306.6 631.5 307.6Z"/>
<path fill="#ffaf00" fill-rule="evenodd" d="M484.5 305.9 478.5 306.5 462.6 305.5 447.5 303.1 445.5 302.5 443.3 300.5 451.5 296.6 462.5 292.9 474.5 289.8 480.5 289.1 482.5 289.6 484.5 291.2 487.0 296.5 487.6 300.5 487.4 302.5 486.5 304.2 484.5 305.9ZM635.5 306.5 629.5 307.3 624.7 306.5 622.5 305.5 624.5 304.2 630.5 303.1 636.5 304.5 637.3 305.5 635.5 306.5Z"/>
<path fill="#ff9f00" fill-rule="evenodd" d="M484.5 305.7 478.5 306.3 463.5 305.3 447.9 302.5 445.4 300.5 450.5 297.9 463.5 293.1 475.5 290.1 480.5 289.6 482.5 290.1 484.5 291.7 486.8 296.5 487.5 300.5 487.2 302.5 486.5 304.0 484.5 305.7ZM633.5 306.6 629.5 306.9 623.8 305.5 625.3 304.5 630.5 303.6 635.2 304.5 636.4 305.5 633.5 306.6Z"/>
<path fill="#ff8f00" fill-rule="evenodd" d="M484.5 305.6 478.5 306.2 464.5 305.2 450.3 302.5 447.5 300.5 457.9 295.5 462.5 293.9 474.5 290.8 480.5 290.1 483.5 291.1 486.5 295.8 487.3 300.5 487.0 302.5 484.5 305.6ZM631.5 306.5 629.2 306.5 625.4 305.5 627.3 304.5 630.5 304.0 633.3 304.5 635.0 305.5 631.5 306.5Z"/>
<path fill="#ff8000" fill-rule="evenodd" d="M483.5 305.7 477.5 306.0 463.5 304.7 452.9 302.5 449.7 300.5 461.5 294.7 474.5 291.2 480.5 290.5 483.5 291.6 485.5 294.1 486.5 296.5 487.2 300.5 486.8 302.5 485.5 304.6 483.5 305.7ZM632.5 305.7 630.5 306.1 627.4 305.5 630.5 304.5 633.2 305.5 632.5 305.7Z"/>
<path fill="#ff7000" fill-rule="evenodd" d="M483.5 305.6 474.5 305.7 462.5 304.3 455.1 302.5 452.0 300.5 461.5 295.1 473.5 291.9 480.5 291.0 482.5 291.4 484.5 293.0 486.5 297.4 487.0 300.5 486.7 302.5 485.5 304.3 483.5 305.6Z"/>
<path fill="#ff6000" fill-rule="evenodd" d="M482.5 305.6 474.1 305.5 461.5 303.9 456.7 302.5 454.2 300.5 459.8 296.5 462.5 295.3 476.5 291.7 481.5 291.6 483.5 292.5 485.5 295.0 486.8 300.5 486.0 303.5 484.5 304.9 482.5 305.6Z"/>
<path fill="#ff5000" fill-rule="evenodd" d="M481.5 305.5 474.5 305.3 461.1 303.5 458.0 302.5 455.9 300.5 460.5 296.9 463.1 295.5 477.5 291.9 481.5 292.0 483.5 292.9 485.5 295.4 486.7 300.5 485.5 303.8 483.5 305.1 481.5 305.5Z"/>
<path fill="#ff4000" fill-rule="evenodd" d="M483.5 304.9 478.5 305.4 463.5 303.7 459.3 302.5 457.2 300.5 460.5 297.7 464.5 295.5 475.5 292.8 480.5 292.2 482.5 292.7 484.5 294.3 486.2 298.5 486.5 300.5 486.1 302.5 485.5 303.5 483.5 304.9Z"/>
<path fill="#ff3000" fill-rule="evenodd" d="M483.5 304.6 478.5 305.2 464.5 303.6 460.6 302.5 458.3 300.5 461.5 297.9 465.9 295.5 476.5 292.9 480.5 292.6 483.5 293.7 485.5 296.6 486.3 300.5 485.9 302.5 483.5 304.6Z"/>
<path fill="#ff2000" fill-rule="evenodd" d="M482.5 304.7 477.5 304.9 465.7 303.5 461.9 302.5 459.5 300.5 462.5 298.0 467.4 295.5 477.5 293.1 481.5 293.2 483.5 294.1 484.8 295.5 486.1 300.5 485.0 303.5 482.5 304.7Z"/>
<path fill="#ff1000" fill-rule="evenodd" d="M481.5 304.6 477.5 304.7 467.3 303.5 463.3 302.5 460.6 300.5 463.5 298.2 468.9 295.5 477.5 293.5 481.5 293.6 484.5 295.5 486.0 300.5 484.7 303.5 481.5 304.6Z"/>
<path fill="#ff0000" fill-rule="evenodd" d="M480.5 304.5 467.5 303.2 464.7 302.5 461.8 300.5 465.5 297.8 470.4 295.5 478.5 293.8 481.5 293.9 483.5 294.8 484.5 296.0 485.8 300.5 484.4 303.5 480.5 304.5Z"/>
<path fill="#ef0000" fill-rule="evenodd" d="M483.5 303.8 478.5 304.3 470.6 303.5 466.1 302.5 463.0 300.5 464.5 299.1 470.5 296.0 477.5 294.3 480.5 294.1 483.8 295.5 485.4 299.5 485.0 302.5 483.5 303.8Z"/>
<path fill="#df0000" fill-rule="evenodd" d="M483.5 303.6 479.5 304.2 472.3 303.5 467.5 302.5 464.3 300.5 465.1 299.5 471.5 296.2 477.5 294.6 480.5 294.5 483.5 295.6 484.9 298.5 485.4 300.5 484.7 302.5 483.5 303.6Z"/>
<path fill="#cf0000" fill-rule="evenodd" d="M482.5 303.7 478.5 304.0 472.5 303.2 469.0 302.5 465.5 300.5 466.5 299.5 473.5 296.0 478.5 294.8 481.5 295.0 483.7 296.5 485.1 300.5 484.5 302.5 482.5 303.7Z"/>
<path fill="#bf0000" fill-rule="evenodd" d="M481.5 303.6 476.5 303.6 470.5 302.5 466.8 300.5 467.7 299.5 473.7 296.5 478.5 295.2 481.5 295.4 483.5 296.8 484.9 300.5 484.1 302.5 481.5 303.6Z"/>
<path fill="#af0000" fill-rule="evenodd" d="M480.5 303.5 472.0 302.5 468.1 300.5 469.1 299.5 475.2 296.5 478.5 295.6 480.5 295.6 482.7 296.5 484.7 300.5 483.5 302.7 480.5 303.5Z"/>
<path fill="#9f0000" fill-rule="evenodd" d="M482.5 302.9 479.5 303.3 474.5 302.7 469.4 300.5 470.4 299.5 476.8 296.5 480.5 296.1 482.5 296.9 484.1 299.5 484.4 300.5 483.5 302.3 482.5 302.9Z"/>
<path fill="#8f0000" fill-rule="evenodd" d="M482.5 302.6 479.5 303.1 475.5 302.6 470.8 300.5 471.8 299.5 477.5 296.9 480.5 296.6 482.5 297.6 483.8 299.5 484.1 300.5 482.5 302.6Z"/>
<path fill="#800000" fill-rule="evenodd" d="M481.5 302.6 476.7 302.5 472.2 300.5 473.2 299.5 477.5 297.6 480.5 297.3 482.5 298.3 483.7 300.5 481.5 302.6Z"/></g>
<rect x="90.5" y="26.75" width="597.25" height="305.75" fill="none" stroke="#000" stroke-width="4.3"/>
<line x1="143.0" y1="332.5" x2="143.0" y2="344.5" stroke="#000" stroke-width="4.3" />
<line x1="143.0" y1="26.75" x2="143.0" y2="14.75" stroke="#000" stroke-width="4.3" />
<text transform="translate(143.00,381.00) scale(1,1.055)" font-size="34.3" text-anchor="middle" fill="#000" >0.5</text>
<line x1="274.375" y1="332.5" x2="274.375" y2="344.5" stroke="#000" stroke-width="4.3" />
<line x1="274.375" y1="26.75" x2="274.375" y2="14.75" stroke="#000" stroke-width="4.3" />
<text transform="translate(274.38,381.00) scale(1,1.055)" font-size="34.3" text-anchor="middle" fill="#000" >1</text>
<line x1="405.75" y1="332.5" x2="405.75" y2="344.5" stroke="#000" stroke-width="4.3" />
<line x1="405.75" y1="26.75" x2="405.75" y2="14.75" stroke="#000" stroke-width="4.3" />
<text transform="translate(405.75,381.00) scale(1,1.055)" font-size="34.3" text-anchor="middle" fill="#000" >1.5</text>
<line x1="537.125" y1="332.5" x2="537.125" y2="344.5" stroke="#000" stroke-width="4.3" />
<line x1="537.125" y1="26.75" x2="537.125" y2="14.75" stroke="#000" stroke-width="4.3" />
<text transform="translate(537.12,381.00) scale(1,1.055)" font-size="34.3" text-anchor="middle" fill="#000" >2</text>
<line x1="668.5" y1="332.5" x2="668.5" y2="344.5" stroke="#000" stroke-width="4.3" />
<line x1="668.5" y1="26.75" x2="668.5" y2="14.75" stroke="#000" stroke-width="4.3" />
<text transform="translate(668.50,381.00) scale(1,1.055)" font-size="34.3" text-anchor="middle" fill="#000" >2.5</text>
<line x1="90.5" y1="308.5" x2="78.0" y2="308.5" stroke="#000" stroke-width="4.3" />
<line x1="687.75" y1="308.5" x2="699.0" y2="308.5" stroke="#000" stroke-width="4.3" />
<text transform="translate(73.30,320.80) scale(1,1.055)" font-size="34.3" text-anchor="end" fill="#000" >0</text>
<line x1="90.5" y1="198.5" x2="78.0" y2="198.5" stroke="#000" stroke-width="4.3" />
<line x1="687.75" y1="198.5" x2="699.0" y2="198.5" stroke="#000" stroke-width="4.3" />
<text transform="translate(73.30,210.80) scale(1,1.055)" font-size="34.3" text-anchor="end" fill="#000" >2</text>
<line x1="90.5" y1="88.5" x2="78.0" y2="88.5" stroke="#000" stroke-width="4.3" />
<line x1="687.75" y1="88.5" x2="699.0" y2="88.5" stroke="#000" stroke-width="4.3" />
<text transform="translate(73.30,100.80) scale(1,1.055)" font-size="34.3" text-anchor="end" fill="#000" >4</text>
<text transform="translate(246.30,415.40) scale(1,1.055)" font-size="34.3" text-anchor="start" fill="#000" >Kinetic energy (eV)</text>
<text transform="translate(41.60,180.20) rotate(-90) scale(1,1.055)" font-size="34.3" text-anchor="middle">Delay (ps)</text>
<text x="-1.1" y="21.5" font-size="30.6">(a)</text>
<rect x="98.3" y="510.2" width="595.4000000000001" height="305.09999999999997" fill="none" stroke="#000" stroke-width="4.3"/>
<line x1="150.6" y1="815.3" x2="150.6" y2="803.0999999999999" stroke="#000" stroke-width="4.3" />
<line x1="150.6" y1="510.2" x2="150.6" y2="521.4" stroke="#000" stroke-width="4.3" />
<text transform="translate(150.60,852.00) scale(1,1.055)" font-size="34.3" text-anchor="middle" fill="#000" >0.5</text>
<line x1="282.04999999999995" y1="815.3" x2="282.04999999999995" y2="803.0999999999999" stroke="#000" stroke-width="4.3" />
<line x1="282.04999999999995" y1="510.2" x2="282.04999999999995" y2="521.4" stroke="#000" stroke-width="4.3" />
<text transform="translate(282.05,852.00) scale(1,1.055)" font-size="34.3" text-anchor="middle" fill="#000" >1</text>
<line x1="413.5" y1="815.3" x2="413.5" y2="803.0999999999999" stroke="#000" stroke-width="4.3" />
<line x1="413.5" y1="510.2" x2="413.5" y2="521.4" stroke="#000" stroke-width="4.3" />
<text transform="translate(413.50,852.00) scale(1,1.055)" font-size="34.3" text-anchor="middle" fill="#000" >1.5</text>
<line x1="544.9499999999999" y1="815.3" x2="544.9499999999999" y2="803.0999999999999" stroke="#000" stroke-width="4.3" />
<line x1="544.9499999999999" y1="510.2" x2="544.9499999999999" y2="521.4" stroke="#000" stroke-width="4.3" />
<text transform="translate(544.95,852.00) scale(1,1.055)" font-size="34.3" text-anchor="middle" fill="#000" >2</text>
<line x1="676.4" y1="815.3" x2="676.4" y2="803.0999999999999" stroke="#000" stroke-width="4.3" />
<line x1="676.4" y1="510.2" x2="676.4" y2="521.4" stroke="#000" stroke-width="4.3" />
<text transform="translate(676.40,852.00) scale(1,1.055)" font-size="34.3" text-anchor="middle" fill="#000" >2.5</text>
<line x1="98.3" y1="510.2" x2="110.3" y2="510.2" stroke="#000" stroke-width="4.3" />
<line x1="693.7" y1="510.2" x2="683.0" y2="510.2" stroke="#000" stroke-width="4.3" />
<text transform="translate(93.50,522.40) scale(1,1.055)" font-size="34.3" text-anchor="end" fill="#000" >1</text>
<line x1="98.3" y1="599.3" x2="110.3" y2="599.3" stroke="#000" stroke-width="4.3" />
<line x1="693.7" y1="599.3" x2="683.0" y2="599.3" stroke="#000" stroke-width="4.3" />
<text transform="translate(93.50,611.50) scale(1,1.055)" font-size="34.3" text-anchor="end" fill="#000" >0.5</text>
<line x1="98.3" y1="689.4" x2="110.3" y2="689.4" stroke="#000" stroke-width="4.3" />
<line x1="693.7" y1="689.4" x2="683.0" y2="689.4" stroke="#000" stroke-width="4.3" />
<text transform="translate(93.50,701.60) scale(1,1.055)" font-size="34.3" text-anchor="end" fill="#000" >0</text>
<line x1="98.3" y1="779.5" x2="110.3" y2="779.5" stroke="#000" stroke-width="4.3" />
<line x1="693.7" y1="779.5" x2="683.0" y2="779.5" stroke="#000" stroke-width="4.3" />
<text transform="translate(93.50,791.70) scale(1,1.055)" font-size="34.3" text-anchor="end" fill="#000" >-0.5</text>
<text transform="translate(253.60,886.80) scale(1,1.055)" font-size="34.3" text-anchor="start" fill="#000" >Kinetic energy (eV)</text>
<text transform="translate(24.20,662.50) rotate(-90) scale(1,1.055)" font-size="34.3" text-anchor="middle">Amplitude (a. u.)</text>
<text x="1.7" y="477" font-size="30.6">(b)</text>
<text transform="translate(215.50,483.90) scale(1,1.055)" font-size="34.3" text-anchor="start" fill="#000" >Decay associated spectra</text>
<text transform="translate(255.70,618.50) scale(1,1.055)" font-size="34.3" text-anchor="start" fill="#f00" >x 50</text>
<rect x="92.9" y="988" width="596.5" height="305.29999999999995" fill="none" stroke="#000" stroke-width="4.3"/>
<line x1="145.4" y1="1293.3" x2="145.4" y2="1281.5" stroke="#000" stroke-width="4.3" />
<line x1="145.4" y1="988" x2="145.4" y2="999.5" stroke="#000" stroke-width="4.3" />
<text transform="translate(145.40,1329.00) scale(1,1.055)" font-size="34.3" text-anchor="middle" fill="#000" >0.5</text>
<line x1="276.9" y1="1293.3" x2="276.9" y2="1281.5" stroke="#000" stroke-width="4.3" />
<line x1="276.9" y1="988" x2="276.9" y2="999.5" stroke="#000" stroke-width="4.3" />
<text transform="translate(276.90,1329.00) scale(1,1.055)" font-size="34.3" text-anchor="middle" fill="#000" >1</text>
<line x1="408.4" y1="1293.3" x2="408.4" y2="1281.5" stroke="#000" stroke-width="4.3" />
<line x1="408.4" y1="988" x2="408.4" y2="999.5" stroke="#000" stroke-width="4.3" />
<text transform="translate(408.40,1329.00) scale(1,1.055)" font-size="34.3" text-anchor="middle" fill="#000" >1.5</text>
<line x1="539.9" y1="1293.3" x2="539.9" y2="1281.5" stroke="#000" stroke-width="4.3" />
<line x1="539.9" y1="988" x2="539.9" y2="999.5" stroke="#000" stroke-width="4.3" />
<text transform="translate(539.90,1329.00) scale(1,1.055)" font-size="34.3" text-anchor="middle" fill="#000" >2</text>
<line x1="671.4" y1="1293.3" x2="671.4" y2="1281.5" stroke="#000" stroke-width="4.3" />
<line x1="671.4" y1="988" x2="671.4" y2="999.5" stroke="#000" stroke-width="4.3" />
<text transform="translate(671.40,1329.00) scale(1,1.055)" font-size="34.3" text-anchor="middle" fill="#000" >2.5</text>
<line x1="92.9" y1="988" x2="104.30000000000001" y2="988" stroke="#000" stroke-width="4.3" />
<line x1="689.4" y1="988" x2="677.6999999999999" y2="988" stroke="#000" stroke-width="4.3" />
<text transform="translate(87.50,1001.40) scale(1,1.055)" font-size="34.3" text-anchor="end" fill="#000" >1</text>
<line x1="92.9" y1="1132.4" x2="104.30000000000001" y2="1132.4" stroke="#000" stroke-width="4.3" />
<line x1="689.4" y1="1132.4" x2="677.6999999999999" y2="1132.4" stroke="#000" stroke-width="4.3" />
<text transform="translate(87.50,1144.80) scale(1,1.055)" font-size="34.3" text-anchor="end" fill="#000" >0.5</text>
<line x1="92.9" y1="1279.0" x2="104.30000000000001" y2="1279.0" stroke="#000" stroke-width="4.3" />
<line x1="689.4" y1="1279.0" x2="677.6999999999999" y2="1279.0" stroke="#000" stroke-width="4.3" />
<text transform="translate(88.00,1291.90) scale(1,1.055)" font-size="34.3" text-anchor="end" fill="#000" >0</text>
<text transform="translate(249.00,1365.00) scale(1,1.055)" font-size="34.3" text-anchor="start" fill="#000" >Kinetic energy (eV)</text>
<text transform="translate(30.30,1140.40) rotate(-90) scale(1,1.055)" font-size="34.3" text-anchor="middle">Amplitude (a. u.)</text>
<text x="5.2" y="937" font-size="30.6">(c)</text>
<text transform="translate(161.20,961.60) scale(1,1.055)" font-size="34.15" text-anchor="start" fill="#000" >Partial ionization cross-sections</text>
<text transform="translate(107.00,1214.80) scale(1,1.055)" font-size="34.3" text-anchor="start" fill="#f00" >x 50</text>
<line x1="653.5" y1="1043.7" x2="653.5" y2="1281" stroke="#000" stroke-width="5.0" stroke-dasharray="3.3 2.41"/>
<defs><clipPath id="cb"><rect x="98.3" y="510.2" width="595.4" height="305.1"/></clipPath><clipPath id="cc"><rect x="92.9" y="988" width="596.5" height="305.3"/></clipPath></defs>
<g clip-path="url(#cb)">
<polyline points="100.0,685.1 104.1,687.4 113.3,689.7 140.7,689.0 163.6,689.7 197.9,689.0 220.7,687.4 255.0,688.6 291.1,687.3 323.1,689.1 339.1,692.1 355.1,691.0 371.1,693.7 384.9,699.4 396.3,697.1 400.0,698.4 408.0,699.3 416.0,704.6 424.0,713.0 438.9,721.3 446.9,735.4 454.9,746.9 462.9,754.9 469.7,765.6 477.7,785.7 484.6,807.4 493.7,751.4 500.6,673.7 505.1,657.7 516.6,645.1 524.6,641.3 537.1,642.9 548.0,646.1 558.3,654.6 570.9,661.4 577.7,656.9 585.7,645.4 593.7,635.1 601.7,628.3 605.1,620.1 617.7,595.4 630.3,566.9 639.4,541.7 647.4,569.1 649.7,588.6 653.1,620.1 654.3,651.1 658.9,669.4 663.4,685.4 668.0,687.7 692.0,687.7" fill="none" stroke="#000" stroke-width="4.9" stroke-linejoin="round" stroke-linecap="butt"/>
<polyline points="100.0,681.7 113.3,680.6 124.7,679.9 136.1,681.5 154.4,678.8 170.4,681.0 191.0,676.0 200.1,677.6 213.9,675.5 223.0,679.0 237.9,674.9 245.9,676.0 255.0,671.4 261.4,670.9 275.1,672.7 291.1,662.2 308.3,669.0 318.6,665.1 330.0,657.1 336.9,654.9 348.3,661.7 355.1,664.0 368.9,656.7 382.6,643.0 400.9,649.1 406.9,649.7 413.7,640.6 422.9,622.3 436.6,605.1 445.7,586.9 453.7,575.4 461.7,569.7 469.7,557.1 477.7,534.3 484.6,512.6 492.6,564.0 497.1,600.1 498.3,646.3 501.7,662.3 508.6,681.7 521.1,686.3 537.1,687.9 560.6,688.9 581.1,687.0 608.6,687.3 631.4,687.7 640.6,690.5 648.6,693.4 658.9,690.0 668.0,687.7 692.0,687.7" fill="none" stroke="#00f" stroke-width="4.9" stroke-linejoin="round" stroke-linecap="butt"/>
<polyline points="100.0,666.9 106.4,669.1 114.4,663.9 124.7,666.9 136.1,668.5 147.6,663.9 160.1,660.0 170.4,663.9 179.6,661.1 192.1,655.4 200.1,661.6 207.0,656.6 215.0,656.6 223.0,666.9 232.1,660.0 239.0,660.0 245.9,663.9 254.6,655.3 275.1,662.2 286.6,653.7 291.1,653.0 307.1,661.3 323.1,654.9 330.0,654.9 338.0,648.5 354.0,666.3 368.9,654.9 378.0,640.7 387.1,641.1 400.9,646.9 408.0,648.1 414.9,641.7 422.9,629.1 432.0,621.1 440.0,613.1 446.9,602.9 454.9,601.0 462.9,608.6 469.7,621.1 477.7,639.9 484.6,645.1 492.6,660.0 500.6,655.4 506.3,655.0 516.6,648.6 524.6,645.1 531.4,640.6 539.4,645.1 546.9,653.4 556.0,658.5 562.9,660.3 570.9,664.4 577.7,666.0 586.9,672.9 601.7,682.0 608.6,683.6 617.7,687.7 625.7,690.0 631.4,692.7 640.6,685.4 648.6,678.1 655.4,678.1 663.4,686.6 671.4,690.0 678.3,692.7 685.1,690.5 692.0,690.0" fill="none" stroke="#f00" stroke-width="4.9" stroke-linejoin="round" stroke-linecap="butt"/>
</g><g clip-path="url(#cc)">
<polyline points="95.0,1250.9 101.4,1262.7 117.4,1259.5 126.6,1262.3 132.3,1262.3 144.9,1256.6 160.9,1258.9 176.9,1254.3 186.0,1252.0 195.1,1254.3 207.7,1249.7 218.0,1254.3 232.9,1248.1 240.9,1250.9 250.0,1242.9 256.4,1239.7 264.4,1243.1 271.3,1242.7 286.1,1223.7 303.3,1239.7 310.1,1236.3 325.0,1215.7 333.0,1216.9 341.0,1224.9 349.0,1233.5 357.0,1229.9 370.7,1215.3 382.1,1210.0 387.9,1208.4 395.9,1214.6 405.0,1208.9 411.4,1201.1 425.1,1180.6 435.4,1172.6 448.0,1167.3 464.0,1169.6 473.1,1164.6 480.0,1157.7 486.9,1158.9 496.0,1189.7 502.9,1200.0 517.7,1180.6 524.6,1180.6 532.6,1186.3 541.4,1189.9 552.9,1207.7 564.3,1222.6 573.4,1208.9 581.4,1186.0 588.3,1168.9 596.3,1154.0 603.1,1130.0 610.0,1101.1 619.1,1060.0 627.1,1024.6 634.0,991.0 637.4,1012.0 642.0,1048.6 645.4,1089.7 647.7,1140.0 650.0,1198.6 654.6,1239.7 658.0,1267.1 662.0,1277.5 688.0,1278.0" fill="none" stroke="#000" stroke-width="4.9" stroke-linejoin="round" stroke-linecap="butt"/>
<polyline points="95.0,1268.0 108.3,1266.9 117.4,1265.7 131.1,1267.3 147.1,1263.4 165.4,1265.7 186.0,1260.5 195.1,1262.3 208.9,1259.5 218.0,1262.7 232.9,1257.7 240.9,1258.9 250.0,1254.3 256.4,1252.3 271.3,1255.0 287.3,1240.9 303.3,1250.5 313.6,1245.4 327.3,1229.9 334.1,1230.6 349.0,1243.6 361.6,1236.3 370.7,1223.7 381.0,1212.3 389.0,1214.6 395.9,1220.7 400.0,1221.7 409.1,1205.7 417.1,1186.3 425.1,1176.0 434.3,1157.7 442.3,1136.0 450.3,1120.0 457.1,1112.0 461.1,1100.0 465.1,1093.1 470.9,1070.3 480.0,1032.0 484.6,1056.6 489.1,1100.0 491.4,1166.9 494.9,1208.0 497.1,1240.0 500.0,1262.0 506.0,1272.0 530.0,1275.8 552.9,1277.4 575.7,1276.0 598.6,1276.0 626.0,1276.5 635.1,1279.7 643.1,1283.6 653.4,1280.9 662.6,1277.4 687.7,1277.4" fill="none" stroke="#00f" stroke-width="4.9" stroke-linejoin="round" stroke-linecap="butt"/>
<polyline points="95.0,1233.0 101.4,1237.1 109.4,1229.1 119.7,1233.7 131.1,1236.7 143.7,1228.0 155.1,1221.1 163.1,1228.0 171.1,1225.7 179.1,1218.9 186.0,1210.9 195.1,1223.9 202.0,1213.8 208.9,1213.8 218.0,1233.7 226.0,1219.3 234.0,1219.3 240.9,1228.5 249.6,1212.3 261.0,1218.0 272.4,1224.9 280.4,1208.9 287.3,1206.1 295.3,1218.5 303.3,1223.0 311.3,1218.5 318.1,1211.1 325.0,1211.1 333.0,1196.3 341.0,1215.7 349.0,1232.9 357.0,1222.6 363.9,1211.1 370.7,1181.4 376.4,1181.0 384.4,1184.9 395.9,1194.0 400.0,1195.4 403.4,1197.7 410.3,1178.3 417.1,1158.9 424.0,1147.4 432.0,1131.4 441.1,1107.4 449.1,1102.9 459.4,1122.3 466.3,1146.3 472.0,1180.6 480.0,1193.1 488.0,1221.7 494.9,1211.4 504.0,1211.4 512.0,1198.9 520.0,1192.0 526.9,1181.0 534.9,1193.1 541.4,1208.9 550.6,1216.9 558.6,1220.3 564.3,1228.3 572.3,1230.6 580.3,1245.4 596.3,1263.7 603.1,1266.0 612.3,1274.5 619.1,1277.4 627.1,1284.3 635.1,1272.9 643.1,1255.7 650.0,1254.6 656.9,1269.4 664.9,1275.1 672.9,1285.4 679.7,1280.9 687.7,1279.7" fill="none" stroke="#f00" stroke-width="4.9" stroke-linejoin="round" stroke-linecap="butt"/>
</g>
<line x1="425.8" y1="1011.7" x2="425.8" y2="1283.5" stroke="#000" stroke-width="5.0" stroke-dasharray="3.3 2.41"/>
<text transform="translate(384.60,1034.40) scale(1,1.055)" font-size="34.3" text-anchor="start" fill="#000" >D</text>
<text transform="translate(408.00,1051.30) scale(1,1.055)" font-size="27.5" text-anchor="start" fill="#000" >1</text>
<text transform="translate(648.30,1020.60) scale(1,1.055)" font-size="34.3" text-anchor="start" fill="#000" >D</text>
<text transform="translate(672.50,1037.20) scale(1,1.055)" font-size="27.5" text-anchor="start" fill="#000" >0</text>
<line x1="120" y1="1034.8" x2="171.1" y2="1034.8" stroke="#000" stroke-width="4.6" />
<line x1="120" y1="1093.4" x2="171.1" y2="1093.4" stroke="#00f" stroke-width="4.6" />
<line x1="120" y1="1151.5" x2="171.1" y2="1151.5" stroke="#f00" stroke-width="4.6" />
<text transform="translate(176.10,1041.60) scale(1,1.055)" font-size="35" text-anchor="start" fill="#000" font-weight="normal">τ</text>
<text transform="translate(190.40,1058.20) scale(1,1.055)" font-size="27.5" text-anchor="start" fill="#000" >1</text>
<text transform="translate(211.30,1041.60) scale(1,1.055)" font-size="34.3" text-anchor="start" fill="#000" >= 104 fs</text>
<text transform="translate(176.10,1100.10) scale(1,1.055)" font-size="35" text-anchor="start" fill="#000" font-weight="normal">τ</text>
<text transform="translate(190.40,1116.70) scale(1,1.055)" font-size="27.5" text-anchor="start" fill="#000" >2</text>
<text transform="translate(211.30,1100.10) scale(1,1.055)" font-size="34.3" text-anchor="start" fill="#000" >= 350 fs</text>
<text transform="translate(176.10,1158.30) scale(1,1.055)" font-size="35" text-anchor="start" fill="#000" font-weight="normal">τ</text>
<text transform="translate(190.40,1174.90) scale(1,1.055)" font-size="27.5" text-anchor="start" fill="#000" >3</text>
<text transform="translate(211.30,1158.30) scale(1,1.055)" font-size="34.3" text-anchor="start" fill="#000" >&gt;&gt; 5 ps</text>
</svg>
</body></html>
